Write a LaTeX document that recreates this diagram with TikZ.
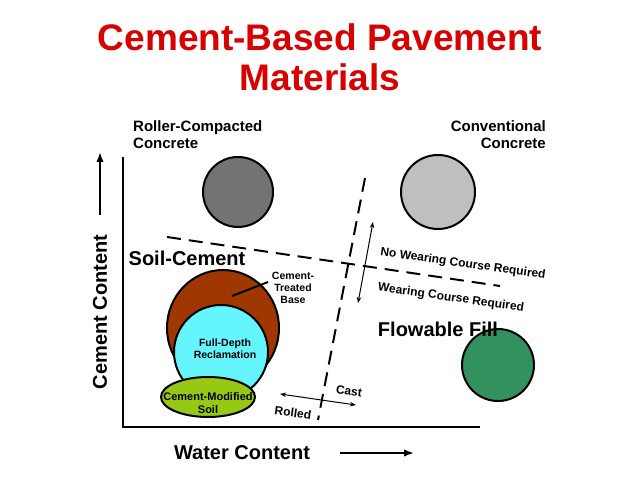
\documentclass[tikz,border=0pt]{standalone}
\usepackage{fontspec}
\setmainfont{Liberation Sans}
\usetikzlibrary{arrows.meta}
\begin{document}
\begin{tikzpicture}[x=1pt,y=-1pt,
  lab/.style={font=\bfseries\fontsize{15}{17}\selectfont},
  big/.style={font=\bfseries\fontsize{20}{22}\selectfont},
  sm/.style={font=\bfseries\fontsize{10.5}{12}\selectfont,align=center},
  mid/.style={font=\bfseries\fontsize{12}{14}\selectfont,rotate=-8},
  mydash/.style={line width=2pt,dash pattern=on 14pt off 8pt},
  dbl/.style={line width=1pt,{Stealth[length=6pt]}-{Stealth[length=6pt]}}]
\useasboundingbox (0,0) rectangle (638,478);
\fill[white] (0,0) rectangle (638,478);
\node[font=\bfseries\fontsize{37}{40}\selectfont,text=red!85!black,align=center] (title) at (320,57) {Cement-Based Pavement\\Materials};
% axes
\coordinate (o) at (123,427); \coordinate (yt) at (123,157); \coordinate (xe) at (480,427);
\draw[line width=2pt] (yt) -- (o) -- (xe);
\node[big,rotate=90] (cc) at (100,312) {Cement Content};
\coordinate (ya) at (100,215); \coordinate (yb) at (100,152);
\draw[line width=2pt,-{Latex[length=10pt]}] (ya) -- (yb);
\node[big] (wc) at (242,453) {Water Content};
\coordinate (xa) at (340,453); \coordinate (xb) at (414,453);
\draw[line width=2pt,-{Latex[length=10pt]}] (xa) -- (xb);
% labels
\node[lab,align=left,anchor=north west,inner sep=0pt] (rcc) at (133,120) {Roller-Compacted\\Concrete};
\node[lab,align=right,anchor=north east,inner sep=0pt] (conv) at (546,120) {Conventional\\Concrete};
% circles
\draw[line width=2pt,fill=black!55] (238,192) circle (35);
\draw[line width=2pt,fill=black!25] (438,192) circle (37);
\draw[line width=2pt,fill={rgb,255:red,51;green,145;blue,95}] (498,365) circle (36);
% soil cement family
\draw[line width=2pt,fill={rgb,255:red,160;green,55;blue,0}] (223,328) ellipse (56 and 58);
\draw[line width=2pt,fill={rgb,255:red,100;green,245;blue,255}] (221,352) circle (47);
\draw[line width=2pt,fill={rgb,255:red,150;green,200;blue,20}] (208,397) ellipse (47 and 20);
\node[big] (sc) at (187,258) {Soil-Cement};
\node[sm] (ctb) at (293,288) {Cement-\\Treated\\Base};
\coordinate (c1) at (232,296); \coordinate (c2) at (268,282);
\draw[line width=2pt] (c1) -- (c2);
\node[sm] (fdr) at (225,349) {Full-Depth\\Reclamation};
\node[sm,font=\bfseries\fontsize{11}{12.5}\selectfont] (cms) at (208,403) {Cement-Modified\\Soil};
% dashed lines
\coordinate (h1) at (167,237); \coordinate (h2) at (500,286);
\draw[mydash] (h1) -- (h2);
\coordinate (v1) at (365,178); \coordinate (v2) at (318,420);
\draw[mydash] (v1) -- (v2);
\coordinate (a1) at (373,222); \coordinate (a2) at (358,303);
\draw[dbl] (a1) -- (a2);
\coordinate (b1) at (280,394); \coordinate (b2) at (356,405);
\draw[dbl] (b1) -- (b2);
\node[mid] (cast) at (349,391) {Cast};
\node[mid] (rol) at (293,413) {Rolled};
\node[mid] (nw) at (463,264) {No Wearing Course Required};
\node[mid] (wr) at (451,298) {Wearing Course Required};
\node[big] (ff) at (438,329) {Flowable Fill};
\end{tikzpicture}
\end{document}
